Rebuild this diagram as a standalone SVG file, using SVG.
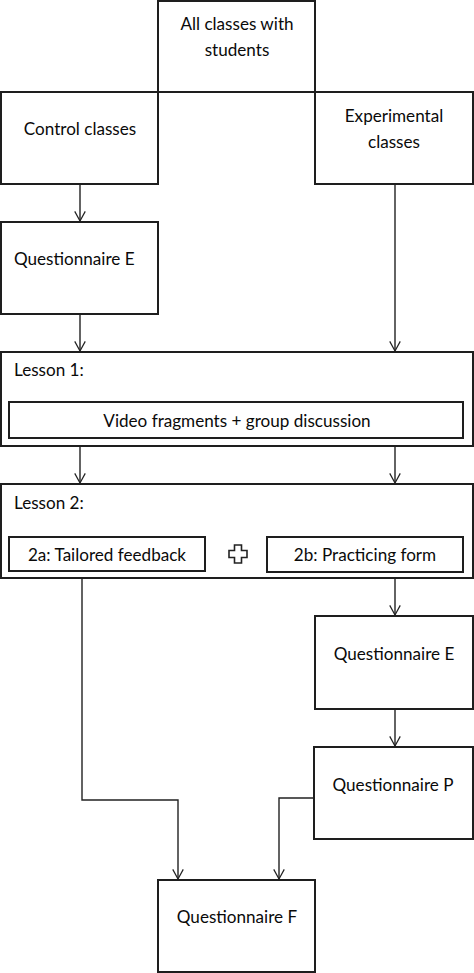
<svg xmlns="http://www.w3.org/2000/svg" width="474" height="973" viewBox="0 0 474 973">
<defs>
<style>
.box{fill:#fff;stroke:#1e1e1e;stroke-width:2}
.inner{fill:#fff;stroke:#1e1e1e;stroke-width:2}
.t{font-family:Lato,"Liberation Sans",sans-serif;font-size:17.1px;fill:#0a0a0a}
.c{text-anchor:middle}
.conn{fill:none;stroke:#222;stroke-width:1.4}
</style>
<marker id="arr" markerUnits="userSpaceOnUse" markerWidth="14" markerHeight="14" viewBox="-12 -8 14 16" refX="0" refY="0" orient="auto" overflow="visible">
<path d="M-11,-6 L0,0 L-11,6" fill="none" stroke="#222" stroke-width="1.4"/>
</marker>
</defs>
<rect width="474" height="973" fill="#fff"/>
<g id="connectors">
<line class="conn" x1="80" y1="184" x2="80" y2="221" marker-end="url(#arr)"/>
<line class="conn" x1="80" y1="314" x2="80" y2="351" marker-end="url(#arr)"/>
<line class="conn" x1="395" y1="184" x2="395" y2="351" marker-end="url(#arr)"/>
<line class="conn" x1="80" y1="446" x2="80" y2="483" marker-end="url(#arr)"/>
<line class="conn" x1="395" y1="446" x2="395" y2="483" marker-end="url(#arr)"/>
<line class="conn" x1="395" y1="578" x2="395" y2="615" marker-end="url(#arr)"/>
<line class="conn" x1="395" y1="709" x2="395" y2="746" marker-end="url(#arr)"/>
<polyline class="conn" points="82,571 82,800 178,800 178,879" marker-end="url(#arr)"/>
<polyline class="conn" points="313,798 279,798 279,879" marker-end="url(#arr)"/>
</g>
<g id="all-classes">
<rect class="box" x="158" y="1" width="157" height="91"/>
<text class="t c" x="237" y="30">All classes with</text>
<text class="t c" x="237" y="56">students</text>
</g>
<g id="control-classes">
<rect class="box" x="1" y="92" width="157" height="92"/>
<text class="t c" x="80" y="135">Control classes</text>
</g>
<g id="experimental-classes">
<rect class="box" x="315" y="92" width="158" height="92"/>
<text class="t c" x="394" y="122">Experimental</text>
<text class="t c" x="394" y="148">classes</text>
</g>
<g id="questionnaire-e-control">
<rect class="box" x="1" y="222" width="157" height="92"/>
<text class="t" x="14" y="265">Questionnaire E</text>
</g>
<g id="lesson-1">
<rect class="box" x="1" y="352" width="472" height="94"/>
<text class="t" x="14" y="376">Lesson 1:</text>
<rect class="inner" x="9" y="402" width="454" height="36"/>
<text class="t c" x="237" y="427">Video fragments + group discussion</text>
</g>
<g id="lesson-2">
<rect class="box" x="1" y="484" width="472" height="94"/>
<text class="t" x="14" y="509">Lesson 2:</text>
<rect class="inner" x="9" y="537" width="196" height="34"/>
<text class="t c" x="107" y="561">2a: Tailored feedback</text>
<polygon points="234.5,545 241.5,545 241.5,550.5 247,550.5 247,557.5 241.5,557.5 241.5,563 234.5,563 234.5,557.5 229,557.5 229,550.5 234.5,550.5" fill="#fff" stroke="#222" stroke-width="1.6"/>
<rect class="inner" x="267" y="537" width="196" height="35"/>
<text class="t c" x="365" y="561">2b: Practicing form</text>
</g>
<g id="questionnaire-e-exp">
<rect class="box" x="315" y="616" width="158" height="93"/>
<text class="t c" x="394" y="660">Questionnaire E</text>
</g>
<g id="questionnaire-p">
<rect class="box" x="314" y="747" width="159" height="92"/>
<text class="t c" x="393" y="791">Questionnaire P</text>
</g>
<g id="questionnaire-f">
<rect class="box" x="158" y="880" width="157" height="92"/>
<text class="t c" x="237" y="923">Questionnaire F</text>
</g>
</svg>
